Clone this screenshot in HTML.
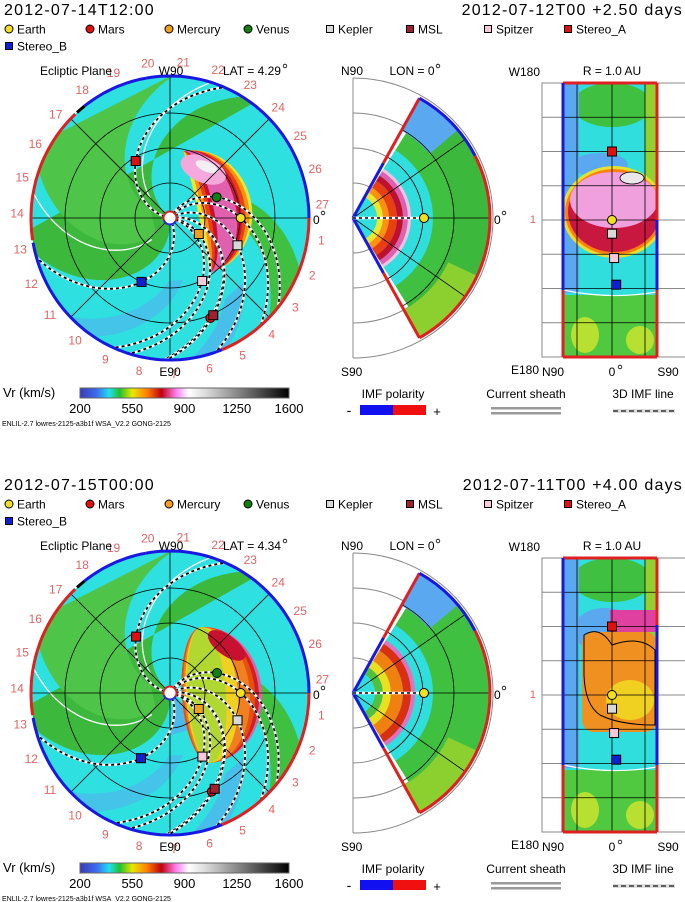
<!DOCTYPE html>
<html><head><meta charset="utf-8"><style>
html,body{margin:0;padding:0;background:#fff;}
svg{display:block;font-family:"Liberation Sans",sans-serif;}
</style></head><body>
<svg id="fig" width="685" height="902" viewBox="0 0 685 902" xmlns="http://www.w3.org/2000/svg">
<defs>
<linearGradient id="vrgrad" x1="0" x2="1" y1="0" y2="0">
<stop offset="0" stop-color="#3a3ab8"/><stop offset="0.08" stop-color="#3c6cf0"/>
<stop offset="0.14" stop-color="#20e0f0"/><stop offset="0.19" stop-color="#20c030"/>
<stop offset="0.25" stop-color="#e8e800"/><stop offset="0.32" stop-color="#ff8000"/>
<stop offset="0.39" stop-color="#c00010"/><stop offset="0.46" stop-color="#ff80f0"/>
<stop offset="0.52" stop-color="#ffffff"/><stop offset="0.6" stop-color="#dcdcdc"/>
<stop offset="1" stop-color="#000000"/>
</linearGradient>
</defs>
</svg>
<script>
const blockOffsets = [0, 475];
const titles = ["2012-07-14T12:00", "2012-07-15T00:00"];
const runTitles = ["2012-07-12T00 +2.50 days", "2012-07-11T00 +4.00 days"];
const latValues = ["4.29", "4.34"];
const legendNames = ["Earth","Mars","Mercury","Venus","Kepler","MSL","Spitzer","Stereo_A","Stereo_B"];
const legendColors = ["#f0e020","#e01010","#f0a020","#108010","#d8d8d8","#a02030","#f8c8d8","#e01010","#1020d0"];
const legendShapes = ["c","c","c","c","s","s","s","s","s"];
const legendX = [9,90,169,248,330,410,488,568,9];
const legendY = [29,29,29,29,29,29,29,29,46];
// body positions in ecliptic plane: radius (AU) and longitude (deg)
const bodyRadTop = [1.01,1.54,0.47,0.73,1.04,1.52,1.01,0.95,1.0];
const bodyAngTop = [0,-68,-29,24,-22,-66,-63,121,-114];
const bodyRadBot = [1.01,1.53,0.47,0.73,1.04,1.51,1.02,0.94,1.02];
const bodyAngBot = [0,-67,-29,23,-22,-65,-63,121,-114];
const vrTicks = [200,550,900,1250,1600];
const carrLabels = [1,2,3,4,5,6,7,8,9,10,11,12,13,14,15,16,17,18,19,20,21,22,23,24,25,26,27];
// R=1AU map body positions (lat offset deg, lon deg)
const mapBodyLat = [0,0,0,0,0,0,1,0,2];
const mapBodyLon = [0,999,999,999,-18,999,-50,90,-85];

const NS = "http://www.w3.org/2000/svg";
const svg = document.getElementById("fig");
function el(tag, attrs, parent){const e=document.createElementNS(NS,tag);for(const k in attrs)e.setAttribute(k,attrs[k]);parent.appendChild(e);return e;}
function txt(parent,x,y,s,size,anchor,fill){const t=el("text",{x:x,y:y,"font-size":size,"text-anchor":anchor||"start",fill:fill||"#000"},parent);t.textContent=s;return t;}

const S = 70; // px per AU
function P(cx,cy,r,th){const t=th*Math.PI/180;return [(cx+r*S*Math.cos(t)).toFixed(1),(cy-r*S*Math.sin(t)).toFixed(1)];}
function bandPath(cx,cy,t1,t2,k,r0,r1){let pts=[];for(let r=r0;r<=r1+1e-6;r+=0.05)pts.push(P(cx,cy,r,t1-k*r));for(let r=r1;r>=r0-1e-6;r-=0.05)pts.push(P(cx,cy,r,t2-k*r));return "M"+pts.map(p=>p.join(",")).join("L")+"Z";}
function spiralPath(cx,cy,rb,tb,k,r0,r1){let pts=[];for(let r=r0;r<=r1+1e-6;r+=0.04)pts.push(P(cx,cy,r,tb-k*(r-rb)));return "M"+pts.map(p=>p.join(",")).join("L");}
function crescent(x,y,ry,rxo,rxi){const sw=rxi>=0?0:1;return `M${x},${y-ry} A${rxo},${ry} 0 0 1 ${x},${y+ry} A${Math.abs(rxi)||0.1},${ry} 0 0 ${sw} ${x},${y-ry}Z`;}
function sector(cx,cy,r0,r1,a0,a1){const p=(r,a)=>[cx+r*Math.cos(a*Math.PI/180),cy-r*Math.sin(a*Math.PI/180)].map(v=>v.toFixed(1)).join(",");const lg=(a1-a0)>180?1:0;return `M${p(r0,a0)} L${p(r1,a0)} A${r1},${r1} 0 ${lg} 0 ${p(r1,a1)} L${p(r0,a1)} A${r0},${r0} 0 ${lg} 1 ${p(r0,a0)}Z`;}
function arcPath(cx,cy,r,a0,a1){const p=(a)=>[cx+r*Math.cos(a*Math.PI/180),cy-r*Math.sin(a*Math.PI/180)].map(v=>v.toFixed(1)).join(",");return `M${p(a0)} A${r},${r} 0 ${(a1-a0)>180?1:0} 0 ${p(a1)}`;}
function marker(parent,x,y,shape,color,sz){if(shape==="c")return el("circle",{cx:x,cy:y,r:sz,fill:color,stroke:"#000","stroke-width":1},parent);return el("rect",{x:x-sz,y:y-sz,width:2*sz,height:2*sz,fill:color,stroke:"#000","stroke-width":1},parent);}

function drawBlock(bi){
  const g = el("g",{transform:`translate(0,${blockOffsets[bi]})`},svg);
  
  
  const top = bi===0;
  const t1 = txt(g,4,15,titles[bi],16); t1.setAttribute("letter-spacing","1.2");
  
  
  const t2 = txt(g,683,15,runTitles[bi],16,"end"); t2.setAttribute("letter-spacing","1.2");
  
  
  const lg = el("g",{},g);
  
  
  for(let i=0;i<legendNames.length;i++){
    const it = el("g",{},lg);
    
    
    marker(it,legendX[i],legendY[i],legendShapes[i],legendColors[i],legendShapes[i]==="c"?4:3.5);
    txt(it,legendX[i]+8,legendY[i]+4.5,legendNames[i],12);
  }
  // ---------- Ecliptic plane ----------
  const cx=170, cy=218;
  const ep = el("g",{},g);
  
  
  const cid = "clipc"+bi;
  const cp = el("clipPath",{id:cid},ep); el("ellipse",{cx:cx,cy:cy,rx:139,ry:142},cp);
  const inner = el("g",{"clip-path":`url(#${cid})`},ep);
  el("rect",{x:cx-150,y:cy-150,width:300,height:300,fill:"#2ee0e0"},inner);
  el("path",{d:bandPath(cx,cy,140,275,40,0,2.2),fill:"#3cb83c"},inner);
  el("path",{d:bandPath(cx,cy,170,240,40,0.3,2.2),fill:"#4ec448"},inner);
  el("path",{d:bandPath(cx,cy,35,58,40,0.9,2.2),fill:"#40c040"},inner);
  el("path",{d:bandPath(cx,cy,0,15,40,1.4,2.2),fill:"#5aa8f0",opacity:0.6},inner);
  el("path",{d:bandPath(cx,cy,305,318,40,0.9,2.2),fill:"#5aa8f0",opacity:0.5},inner);
  if(!top) el("path",{d:bandPath(cx,cy,295,325,40,0.1,0.6),fill:"#5aa8f0",opacity:0.7},inner);
  // CME
  const cme = el("g",{},inner);
  
  
  if(top){
    const cg = el("g",{transform:"translate(196,212) rotate(-12)"},cme);
    const layers=[[56,2,"#e8e830"],[53,6,"#ff9010"],[49,10,"#e84010"],[45,14,"#c81030"],[40,18,"#e060b0"]];
    layers.forEach(l=>el("path",{d:crescent(0,0,62,l[0],l[1]),fill:l[2]},cg));
    el("ellipse",{cx:16,cy:-40,rx:24,ry:13,fill:"#f4a8dc",transform:"rotate(35 16 -40)"},cg);
    el("ellipse",{cx:20,cy:-42,rx:12,ry:5,fill:"#f2eef2",transform:"rotate(35 20 -42)"},cg);
  } else {
    const cg = el("g",{transform:"translate(206,220) rotate(-4)"},cme);
    const layers=[[56,-24,"#e060a8"],[53,-24,"#d02020"],[49,-24,"#e85010"],[44,-22,"#f08020"],[32,-20,"#f0d020"],[20,-18,"#b0d830"]];
    layers.forEach(l=>el("path",{d:crescent(0,0,68,l[0],l[1]),fill:l[2]},cg));
    el("ellipse",{cx:24,cy:-48,rx:22,ry:10,fill:"#c81030",transform:"rotate(40 24 -48)"},cg);
  }
  [[150,38],[245,38],[10,50]].forEach(a=>el("path",{d:spiralPath(cx,cy,0,a[0],a[1],0.4,2.1),fill:"none",stroke:"#fff","stroke-width":1.3},inner));
  [35,70,105].forEach(r=>el("circle",{cx:cx,cy:cy,r:r,fill:"none",stroke:"#000","stroke-width":0.8},inner));
  [0,45,90,135].forEach(a=>{const p1=P(cx,cy,2.1,a),p2=P(cx,cy,2.1,a+180);el("line",{x1:p1[0],y1:p1[1],x2:p2[0],y2:p2[1],stroke:"#000","stroke-width":0.8},inner);});
  const br = top?bodyRadTop:bodyRadBot, ba = top?bodyAngTop:bodyAngBot;
  const fl = el("g",{},inner);
  
  
  for(let i=0;i<br.length;i++){const d=spiralPath(cx,cy,br[i],ba[i],50,0.08,2.1);el("path",{d:d,fill:"none",stroke:"#fff","stroke-width":2.4},fl);el("path",{d:d,fill:"none",stroke:"#000","stroke-width":1.8,"stroke-dasharray":"3,3"},fl);}
  for(let i=0;i<br.length;i++){const p=P(cx,cy,br[i],ba[i]);const m=marker(inner,+p[0],+p[1],i===2?"s":legendShapes[i],legendColors[i],4.5);
    
    }
  el("circle",{cx:cx,cy:cy,r:6.5,fill:"#fff",stroke:"#e02020","stroke-width":2},ep);
  el("path",{d:arcPath(cx,cy,6.5,200,330),fill:"none",stroke:"#2030e0","stroke-width":2},ep);
  const segs=[[0,100,"#1818e0"],[100,128,"#1818e0"],[128,133,"#000"],[133,190,"#e02020"],[190,292,"#1818e0"],[292,360,"#e02020"]];
  segs.forEach(s=>{const pts=[];for(let a=s[0];a<=s[1];a+=2){const t=a*Math.PI/180;pts.push((cx+139*Math.cos(t)).toFixed(1)+","+(cy-142*Math.sin(t)).toFixed(1));}el("path",{d:"M"+pts.join("L"),fill:"none",stroke:s[2],"stroke-width":3},ep);});
  carrLabels.forEach(n=>{const a=5-n*13.333;const t=a*Math.PI/180;txt(ep,(cx+153*Math.cos(t)).toFixed(1),(cy-156*Math.sin(t)+4).toFixed(1),String(n),12,"middle","#e06464");});
  txt(ep,40,75,"Ecliptic Plane",12);
  txt(ep,171,75,"W90",12,"middle");
  txt(ep,223,75,"LAT = "+latValues[bi],12);
  el("circle",{cx:285,cy:66,r:1.8,fill:"none",stroke:"#000","stroke-width":0.8},ep);
  txt(ep,170,376,"E90",12,"middle");
  txt(ep,313,224,"0",12); el("circle",{cx:323,cy:213,r:1.8,fill:"none",stroke:"#000","stroke-width":0.8},ep);

  // ---------- Meridional wedge ----------
  const ax=353, ay=218;
  const mw = el("g",{},g);
  
  
  [35,70,105,140].forEach(r=>el("path",{d:arcPath(ax,ay,r,-90,90),fill:"none",stroke:"#888","stroke-width":1},mw));
  el("line",{x1:ax,y1:78,x2:ax,y2:358,stroke:"#888","stroke-width":1},mw);
  const wd = el("g",{},mw);
  if(top){
    const bands=[[0,137,"#40c040"],[0,80,"#30dede"],[100,137,"#3cb83c"],[24,30,"#e8e830"],[30,36,"#ff9010"],[36,44,"#e84010"],[44,50,"#c01030"],[50,55,"#e060b0"],[55,58,"#f4c0e0"]];
    bands.forEach(b=>el("path",{d:sector(ax,ay,b[0],b[1],-58,58),fill:b[2]},wd));
    el("path",{d:sector(ax,ay,100,137,40,61),fill:"#5aa8f0"},wd);
    el("path",{d:sector(ax,ay,105,137,-61,-25),fill:"#8cd030"},wd);
  } else {
    const bands=[[0,137,"#40c040"],[0,80,"#30dede"],[22,30,"#50c040"],[30,38,"#e8e020"],[38,50,"#f08010"],[50,58,"#d83010"],[58,62,"#e070c0"]];
    bands.forEach(b=>el("path",{d:sector(ax,ay,b[0],b[1],-58,58),fill:b[2]},wd));
    el("path",{d:sector(ax,ay,100,137,40,61),fill:"#5aa8f0"},wd);
    el("path",{d:sector(ax,ay,105,137,-61,-25),fill:"#8cd030"},wd);
  }
  [70,101].forEach(r=>el("path",{d:arcPath(ax,ay,r,-61,61),fill:"none",stroke:"#000","stroke-width":0.8},mw));
  [35,0,-35].forEach(a=>{const t=a*Math.PI/180;el("line",{x1:ax,y1:ay,x2:(ax+137*Math.cos(t)).toFixed(1),y2:(ay-137*Math.sin(t)).toFixed(1),stroke:"#000","stroke-width":0.8},mw);});
  const ed=(r0,r1,a,c)=>{const t=a*Math.PI/180;el("line",{x1:(ax+r0*Math.cos(t)).toFixed(1),y1:(ay-r0*Math.sin(t)).toFixed(1),x2:(ax+r1*Math.cos(t)).toFixed(1),y2:(ay-r1*Math.sin(t)).toFixed(1),stroke:c,"stroke-width":3},mw);};
  ed(0,63,61,"#1818e0");ed(63,137,61,"#e02020");ed(0,63,-61,"#1818e0");ed(63,137,-61,"#e02020");
  el("path",{d:arcPath(ax,ay,137,27,61),fill:"none",stroke:"#1818e0","stroke-width":3},mw);
  el("path",{d:arcPath(ax,ay,137,-61,27),fill:"none",stroke:"#e02020","stroke-width":3},mw);
  el("line",{x1:ax,y1:ay,x2:ax+71,y2:ay,stroke:"#fff","stroke-width":2.4},mw);
  el("line",{x1:ax,y1:ay,x2:ax+71,y2:ay,stroke:"#000","stroke-width":1.6,"stroke-dasharray":"3,3"},mw);
  const em = el("circle",{cx:ax+71,cy:ay,r:4.5,fill:"#f0e020",stroke:"#000","stroke-width":1},mw);
  
  
  txt(mw,341,75,"N90",12); txt(mw,412,75,"LON = 0",12,"middle"); el("circle",{cx:438,cy:66,r:1.8,fill:"none",stroke:"#000","stroke-width":0.8},mw);
  txt(mw,341,376,"S90",12); txt(mw,494,224,"0",12); el("circle",{cx:504,cy:213,r:1.8,fill:"none",stroke:"#000","stroke-width":0.8},mw);

  // ---------- R = 1 AU map ----------
  const mp = el("g",{},g);
  
  
  const rx0=563, rx1=657, ry0=83, ry1=357;
  el("rect",{x:542,y:ry0,width:150,height:ry1-ry0,fill:"#fff",stroke:"#888","stroke-width":1},mp);
  for(let k=1;k<8;k++) el("line",{x1:542,y1:ry0+34.25*k,x2:685,y2:ry0+34.25*k,stroke:"#888","stroke-width":1},mp);
  const mc = "clipm"+bi; const mcp=el("clipPath",{id:mc},mp); el("rect",{x:rx0,y:ry0,width:rx1-rx0,height:ry1-ry0},mcp);
  const mg = el("g",{"clip-path":`url(#${mc})`},mp);
  el("rect",{x:rx0,y:ry0,width:94,height:274,fill:"#30dede"},mg);
  el("ellipse",{cx:612,cy:105,rx:40,ry:22,fill:"#40c040"},mg);
  el("rect",{x:645,y:ry0,width:12,height:100,fill:"#90d030"},mg);
  el("rect",{x:rx0,y:ry0,width:16,height:210,fill:"#5aa8f0"},mg);
  el("rect",{x:rx0,y:295,width:94,height:62,fill:"#50c840"},mg);
  el("ellipse",{cx:585,cy:335,rx:14,ry:18,fill:"#b8e030"},mg);
  el("ellipse",{cx:640,cy:340,rx:14,ry:14,fill:"#b8e030"},mg);
  if(top){
    el("ellipse",{cx:600,cy:165,rx:28,ry:12,fill:"#5aa8f0"},mg);
    el("ellipse",{cx:614,cy:212,rx:52,ry:46,fill:"#e8e030"},mg);
    el("ellipse",{cx:614,cy:212,rx:49,ry:43,fill:"#ff8010"},mg);
    el("ellipse",{cx:614,cy:212,rx:46,ry:40,fill:"#c81840"},mg);
    el("ellipse",{cx:614,cy:200,rx:44,ry:28,fill:"#f0a0dc"},mg);
    el("ellipse",{cx:632,cy:178,rx:12,ry:6,fill:"#e8e8e8",stroke:"#000","stroke-width":0.8},mg);
  } else {
    el("ellipse",{cx:605,cy:155,rx:32,ry:22,fill:"#5aa8f0"},mg);
    el("rect",{x:610,y:135,width:47,height:22,fill:"#e040a0"},mg);
    el("rect",{x:582,y:157,width:75,height:100,rx:12,fill:"#f09020"},mg);
    el("ellipse",{cx:630,cy:225,rx:24,ry:20,fill:"#f0d020"},mg);
    el("path",{d:"M584,160 Q600,150 612,170 Q640,160 655,175 L655,250 Q620,250 600,240 Q585,230 584,200Z",fill:"none",stroke:"#000","stroke-width":1},mg);
  }
  el("path",{d:"M563,290 Q610,300 657,292",fill:"none",stroke:"#fff","stroke-width":1.2},mg);
  [577,612,645].forEach(x=>el("line",{x1:x,y1:ry0,x2:x,y2:ry1,stroke:"#000","stroke-width":0.8},mg));
  for(let k=1;k<8;k++) el("line",{x1:rx0,y1:ry0+34.25*k,x2:rx1,y2:ry0+34.25*k,stroke:"#000","stroke-width":0.8},mg);
  const ln=(x1,y1,x2,y2,c)=>el("line",{x1:x1,y1:y1,x2:x2,y2:y2,stroke:c,"stroke-width":3},mp);
  ln(rx0,ry0,rx1,ry0,"#e02020");ln(rx0,ry1,rx1,ry1,"#e02020");
  ln(rx0,ry0,rx0,290,"#1818e0");ln(rx0,290,rx0,ry1,"#e02020");
  ln(rx1,ry0,rx1,top?220:150,"#e02020");ln(rx1,top?220:150,rx1,290,"#1818e0");ln(rx1,290,rx1,ry1,"#e02020");
  const latScale = 94/180, lonScale = 274/360;
  for(let i=0;i<legendNames.length;i++){ if(mapBodyLon[i]===999) continue;
    const x = 612 + mapBodyLat[i]*2*latScale*2, y = 220 - mapBodyLon[i]*lonScale;
    const m = marker(mp,x,y,legendShapes[i],legendColors[i],4.5);
    
    
  }
  txt(mp,540,76,"W180",12,"end"); txt(mp,612,75,"R = 1.0 AU",12,"middle");
  txt(mp,536,223,"1",11,"end","#e06464");
  txt(mp,539,374,"E180",12,"end"); txt(mp,553,376,"N90",12,"middle"); txt(mp,612,376,"0",12,"middle");
  el("circle",{cx:620,cy:367,r:1.8,fill:"none",stroke:"#000","stroke-width":0.8},mp);
  txt(mp,668,376,"S90",12,"middle");

  // ---------- Colorbar ----------
  const cb = el("g",{},g);
  
  
  txt(cb,3,397,"Vr (km/s)",13);
  el("rect",{x:80,y:388,width:209,height:10,fill:"url(#vrgrad)",stroke:"#666","stroke-width":1},cb);
  vrTicks.forEach(v=>{const x=80+(v-vrTicks[0])/(vrTicks[vrTicks.length-1]-vrTicks[0])*209;txt(cb,x.toFixed(1),413,String(v),13,"middle");});
  const en = txt(g,2,426,"ENLIL-2.7 lowres-2125-a3b1f WSA_V2.2 GONG-2125",7);
  
  
  const ip = el("g",{},g);
  
  
  txt(ip,393,398,"IMF polarity",12,"middle");
  el("rect",{x:360,y:405,width:33,height:10,fill:"#1010f0"},ip);
  el("rect",{x:393,y:405,width:33,height:10,fill:"#f01010"},ip);
  txt(ip,349,415,"-",14,"middle"); txt(ip,437,416,"+",13,"middle");
  const cs = el("g",{},g);
  
  
  txt(cs,526,398,"Current sheath",12,"middle");
  el("rect",{x:491,y:407,width:70,height:2.5,fill:"#999"},cs);
  el("rect",{x:491,y:412,width:70,height:2.5,fill:"#999"},cs);
  const im = el("g",{},g);
  
  
  txt(im,643,398,"3D IMF line",12,"middle");
  el("line",{x1:613,y1:411,x2:675,y2:411,stroke:"#ddd","stroke-width":4},im);
  el("line",{x1:613,y1:411,x2:675,y2:411,stroke:"#333","stroke-width":1.5,"stroke-dasharray":"5,3"},im);
}
drawBlock(0);
drawBlock(1);
</script>
</body></html>
